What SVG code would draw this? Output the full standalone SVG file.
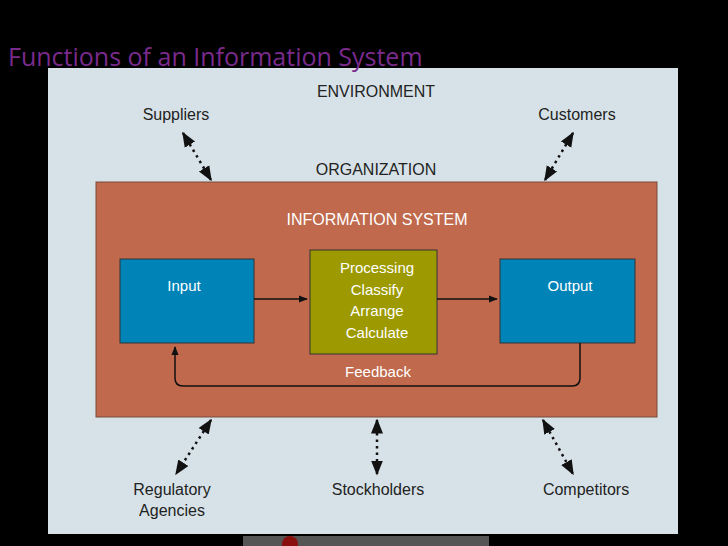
<svg xmlns="http://www.w3.org/2000/svg" width="728" height="546" viewBox="0 0 728 546">
<defs>
<marker id="ah" viewBox="0 0 10 10" refX="9" refY="5" markerWidth="6" markerHeight="6" orient="auto-start-reverse"><path d="M0,1 L10,5 L0,9 Z" fill="#111"/></marker>
<style>
text{font-family:"Liberation Sans",Arial,sans-serif;font-size:16px;fill:#222;text-anchor:middle}
.w{fill:#fff;font-size:15px}
.dot{stroke:#111;stroke-width:2.5;stroke-dasharray:2.5 4;fill:none;marker-start:url(#ah);marker-end:url(#ah)}
.box{stroke:#333;stroke-width:1}
</style>
</defs>
<rect width="728" height="546" fill="#000"/>
<rect x="48" y="68" width="630" height="466" fill="#d7e2e8"/>
<rect x="243" y="536" width="246" height="10" fill="#555"/>
<circle cx="290" cy="544" r="8" fill="#8a1010"/>
<text x="8" y="66" style="font-family:'Open Sans','Liberation Sans',sans-serif;font-size:25px;fill:#7a2a8c;text-anchor:start">Functions of an Information System</text>
<text x="376" y="97">ENVIRONMENT</text>
<text x="376" y="175">ORGANIZATION</text>
<g id="org"><rect x="96" y="182" width="561" height="235" fill="#c0694c" stroke="#7a4a3a"/></g>
<text class="w" x="377" y="225" style="font-size:16px">INFORMATION SYSTEM</text>
<g id="input"><rect class="box" x="120" y="259" width="134" height="84" fill="#0083b7"/><text class="w" x="184" y="291">Input</text></g>
<g id="processing"><rect class="box" x="310" y="250" width="127" height="104" fill="#9c9a00"/>
<text class="w" x="377" y="273">Processing</text><text class="w" x="377" y="295">Classify</text><text class="w" x="377" y="316">Arrange</text><text class="w" x="377" y="338">Calculate</text></g>
<g id="output"><rect class="box" x="500" y="259" width="135" height="84" fill="#0083b7"/><text class="w" x="570" y="291">Output</text></g>
<g id="suppliers"><text x="176" y="120">Suppliers</text></g>
<g id="customers"><text x="577" y="120">Customers</text></g>
<g id="regulatory"><text x="172" y="495">Regulatory</text><text x="172" y="516">Agencies</text></g>
<g id="stockholders"><text x="378" y="495">Stockholders</text></g>
<g id="competitors"><text x="586" y="495">Competitors</text></g>
<text class="w" x="378" y="377">Feedback</text>
<g id="connectors" stroke="#111" stroke-width="1.5" fill="none">
<line x1="254" y1="299" x2="307" y2="299" marker-end="url(#ah)"/>
<line x1="437" y1="299" x2="497" y2="299" marker-end="url(#ah)"/>
<path d="M580,343 V378 Q580,386 572,386 H183 Q175,386 175,378 V347" marker-end="url(#ah)"/>
<line class="dot" x1="183" y1="133" x2="211" y2="180"/>
<line class="dot" x1="573" y1="133" x2="545" y2="180"/>
<line class="dot" x1="211" y1="420" x2="176" y2="474"/>
<line class="dot" x1="377" y1="420" x2="377" y2="474"/>
<line class="dot" x1="543" y1="420" x2="573" y2="474"/>
</g>
</svg>
